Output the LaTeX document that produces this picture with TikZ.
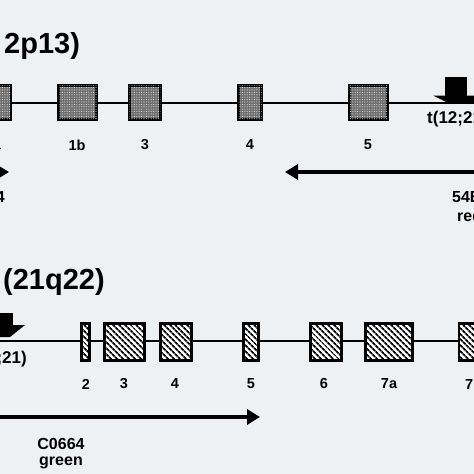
\documentclass[tikz,border=0pt]{standalone}
\usepackage{fontspec}
\setmainfont{Liberation Sans}
\usetikzlibrary{patterns.meta,arrows.meta}
\definecolor{bgc}{RGB}{238,241,243}
\definecolor{dotgray}{RGB}{110,110,110}
\begin{document}
\begin{tikzpicture}[x=1pt,y=-1pt,
  exdot/.style={rectangle,draw=black,line width=2.8pt,fill=dotgray,inner sep=0pt,
     postaction={pattern={Dots[distance=2.4pt,radius=0.55pt]},pattern color=white!80!gray}},
  exstripe/.style={rectangle,draw=black,line width=2.8pt,fill=white,inner sep=0pt,
     postaction={pattern={Lines[angle=-45,distance=4pt,line width=1.8pt]},pattern color=black}},
  track/.style={line width=2.6pt},
  bigarrow/.style={line width=4pt,-{Triangle[length=13pt,width=15pt]}},
  title/.style={font=\bfseries\fontsize{29}{33}\selectfont,inner sep=0pt},
  exlab/.style={font=\bfseries\fontsize{14.5}{17}\selectfont,inner sep=0pt},
  bplab/.style={font=\bfseries\fontsize{17}{20}\selectfont,inner sep=0pt},
  cltext/.style={font=\bfseries\fontsize{16}{19}\selectfont,inner sep=0pt,align=center},
  marker/.style={fill=black,draw=none}]
\fill[bgc] (0,0) rectangle (474,474);
\useasboundingbox (0,0) rectangle (474,474);

% ---------- top gene (12p13) ----------
\node[title,anchor=base west] (t1) at (4,53) {2p13)};
\coordinate (l1a) at (-5,103);
\coordinate (l1b) at (480,103);
\draw[track] (l1a) -- (l1b);
\node[exdot,minimum width=38pt,minimum height=34.5pt] (a1a) at (-8,102.5) {};
\node[exdot,minimum width=38pt,minimum height=34.5pt] (a1b) at (77.5,102.5) {};
\node[exdot,minimum width=31pt,minimum height=34.5pt] (a3) at (145,102.5) {};
\node[exdot,minimum width=23pt,minimum height=34.5pt] (a4) at (250,102.5) {};
\node[exdot,minimum width=38pt,minimum height=34.5pt] (a5) at (368.5,102.5) {};
\node[exlab] (la1a) at (-7,145) {1a};
\node[exlab] (la1b) at (77,145) {1b};
\node[exlab] (la3) at (145,145) {3};
\node[exlab] (la4) at (250,145) {4};
\node[exlab] (la5) at (368,145) {5};
% breakpoint marker
\fill[marker] (445,77) rectangle (467,96);
\fill[marker] (433,95.5) -- (480,95.5) -- (480,102) -- (446,102) -- cycle;
\node[bplab,anchor=west] (bp1) at (427,119) {t(12;21)};
% probe arrows
\coordinate (pa0) at (-20,172);
\coordinate (pa1) at (9,172);
\draw[bigarrow] (pa0) -- (pa1);
\node[cltext,anchor=east] (pl1) at (5,197) {4};
\coordinate (pb0) at (480,172);
\coordinate (pb1) at (285,172);
\draw[bigarrow] (pb0) -- (pb1);
\node[cltext,anchor=west] (pl2) at (452,197) {54B};
\node[cltext,anchor=west] (pl3) at (457,216) {red};

% ---------- bottom gene (21q22) ----------
\node[title,anchor=base west] (t2) at (3,289) {(21q22)};
\coordinate (l2a) at (-5,341);
\coordinate (l2b) at (480,341);
\draw[track] (l2a) -- (l2b);
\fill[marker] (-5,313) rectangle (13,326);
\fill[marker] (-5,325) -- (25,325) -- (10,337) -- (-5,337) -- cycle;
\node[bplab,anchor=east] (bp2) at (27,359) {t(12;21)};
\node[exstripe,minimum width=8.5pt,minimum height=37pt] (b2) at (85.5,342) {};
\node[exstripe,minimum width=40pt,minimum height=37pt] (b3) at (124.5,342) {};
\node[exstripe,minimum width=31pt,minimum height=37pt] (b4) at (176,342) {};
\node[exstripe,minimum width=15pt,minimum height=37pt] (b5) at (251,342) {};
\node[exstripe,minimum width=31pt,minimum height=37pt] (b6) at (326,342) {};
\node[exstripe,minimum width=47pt,minimum height=37pt] (b7a) at (389,342) {};
\node[exstripe,minimum width=40pt,minimum height=37pt] (b7b) at (479,342) {};
\node[exlab] (lb2) at (86,384) {2};
\node[exlab] (lb3) at (124,384) {3};
\node[exlab] (lb4) at (175,384) {4};
\node[exlab] (lb5) at (251,384) {5};
\node[exlab] (lb6) at (324,384) {6};
\node[exlab] (lb7a) at (389,384) {7a};
\node[exlab,anchor=west] (lb7b) at (465,384) {7b};
\coordinate (pc0) at (-20,417);
\coordinate (pc1) at (260,417);
\draw[bigarrow] (pc0) -- (pc1);
\node[cltext] (pl4) at (61,444) {C0664};
\node[cltext] (pl5) at (61,463) {green};
\end{tikzpicture}
\end{document}
